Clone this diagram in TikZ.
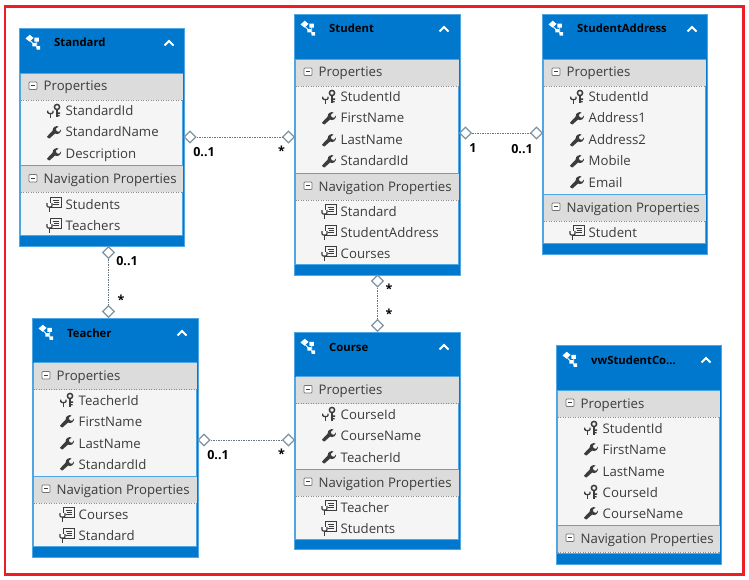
\documentclass[tikz,border=0pt]{standalone}
\usepackage{fontspec}
\setmainfont{Open Sans}
\usetikzlibrary{shapes.geometric,calc}
\definecolor{hdr}{HTML}{0078CE}
\definecolor{edgeb}{HTML}{4FA6E3}
\definecolor{band}{HTML}{DCDCDC}
\definecolor{listbg}{HTML}{F5F5F5}
\definecolor{ink}{HTML}{3C3C3C}
\definecolor{dia}{HTML}{7F93A3}
\definecolor{frame}{HTML}{EE1C25}
\tikzset{
  x=1pt,y=-1pt,
  entity/.style={draw=edgeb,line width=1pt,fill=hdr,rectangle,inner sep=0pt,minimum width=#1,anchor=north west},
  title/.style={anchor=base west,inner sep=0pt,font=\fontsize{11.3}{12}\selectfont\bfseries,text=black},
  sect/.style={anchor=base west,inner sep=0pt,font=\fontsize{13.2}{15}\selectfont,text=ink},
  rowtxt/.style={anchor=base west,inner sep=0pt,font=\fontsize{13.2}{15}\selectfont,text=ink},
  mult/.style={inner sep=0pt,font=\fontsize{12.5}{13}\selectfont\bfseries,text=black},
  end/.style={diamond,draw=dia,fill=white,line width=1.2pt,minimum width=12pt,minimum height=12pt,inner sep=0pt},
  link/.style={draw=dia!80!black,line width=.7pt,dash pattern=on 1.5pt off 1pt},
}
% wrench
\newcommand{\wrenchicon}[2]{%
  \begin{scope}[shift={(#1,#2)},rotate=0]
    \fill[ink] (-6,6) -- (-7,4.6) -- (-1.2,-1.6) .. controls (-1.6,-4.6) and (1.6,-6.6) .. (4.6,-5.6)
      -- (1.8,-3.2) -- (2.6,-.8) -- (5.2,-.2) -- (7,-2.6) .. controls (7.4,.8) and (4,3) .. (1,1.6) -- (-4.4,6.4) -- cycle;
  \end{scope}}
% key + wrench-like key icon
\newcommand{\keyicon}[2]{%
  \begin{scope}[shift={(#1,#2)}]
    \draw[ink,line width=1.5pt] (3,-4) circle (2.6);
    \fill[ink] (2.1,-2) rectangle (3.9,6.5);
    \fill[ink] (3.5,1.4) rectangle (6.2,2.8) (3.5,4) rectangle (5.6,5.4);
    \draw[ink,line width=1.3pt] (-6.2,-.4) -- (-6.2,1.4) .. controls (-6.2,3) and (-1,3) .. (-1,1.4) -- (-1,-.4);
    \fill[ink] (-4.4,2.2) rectangle (-2.9,7);
  \end{scope}}
% navigation property icon
\newcommand{\navicon}[2]{%
  \begin{scope}[shift={(#1,#2)}]
    \draw[ink,line width=1pt] (-3.5,-6.5) rectangle (7,3);
    \draw[ink,line width=1pt] (-1.5,-4) -- (4.5,-4) (-.5,-1.6) -- (4.5,-1.6) (-1.5,.8) -- (4.5,.8);
    \draw[ink,line width=1.2pt,fill=white] (-7,-1) -- (-7,1.8) .. controls (-7,3.6) and (-2,3.6) .. (-2,1.8) -- (-2,-1);
    \fill[ink] (-5.2,2.8) rectangle (-3.8,7.5);
  \end{scope}}
% section header: #1 x, #2 box width, #3 y of label centre, #4 text, #5 node name
\newcommand{\sectionhead}[5]{%
  \fill[band] (#1+1.5,#3-13.5) rectangle (#1+#2-1.5,#3+13.5);
  \draw[edgeb,line width=.9pt] (#1+1.5,#3-13.5) -- (#1+#2-1.5,#3-13.5);
  \draw[black!45,line width=.5pt,dotted] (#1+1.5,#3+13.5) -- (#1+#2-1.5,#3+13.5);
  \draw[black!55,fill=white,line width=.7pt,rounded corners=.8pt] (#1+10,#3-4.5) rectangle (#1+18,#3+3);
  \draw[black!75,line width=.8pt] (#1+12,#3-.8) -- (#1+16,#3-.8);
  \node[sect] (#5) at (#1+24.5,#3+4.5) {#4};}
% row: #1 x, #2 y, #3 icon macro, #4 text, #5 name
\newcommand{\rowitem}[5]{%
  #3{#1+35}{#2}%
  \node[rowtxt] (#5) at (#1+46.5,#2+5) {#4};}
% box frame: #1 name #2 x #3 y #4 width #5 height #6 title #7 list top #8 list bottom
\newcommand{\entitybox}[8]{%
  \node[entity=#4,minimum height=#5] (#1) at (#2,#3) {};
  \fill[listbg] (#2+1.5,#7) rectangle (#2+#4-1.5,#8);
  \draw[edgeb,line width=.9pt] (#2+1.5,#7) -- (#2+1.5,#8) -- (#2+#4-1.5,#8) -- (#2+#4-1.5,#7);
  \begin{scope}[shift={(#2+14,#3+13)},scale=1.25]
    \fill[white] (-6,-2) -- (-2.6,-5) -- (0.4,-2.5) -- (-2.6,.6) -- cycle;
    \fill[white] (1,-2.6) rectangle (4.6,.6) (-.6,1.6) rectangle (2.6,4.4) (2.8,4.2) rectangle (5.6,7);
    \draw[white,line width=.9pt] (-2,0) -- (1,3) (3,0) -- (3,6);
  \end{scope}
  \draw[white,line width=2pt] (#2+145.5,#3+17.5) -- (#2+150,#3+13) -- (#2+154.5,#3+17.5);
  \node[title] (#1title) at (#2+35,#3+19) {#6};}
\begin{document}
\begin{tikzpicture}
\useasboundingbox (0,0) rectangle (749,580);
\fill[white] (0,0) rectangle (749,580);
\draw[frame,line width=2.6pt] (5,6.5) rectangle (743.5,574.5);

% Standard
\entitybox{standard}{19}{28}{165}{218}{Standard}{73}{235}
\sectionhead{19}{165}{86.5}{Properties}{stdP}
\rowitem{19}{111}{\keyicon}{StandardId}{stdA}
\rowitem{19}{132}{\wrenchicon}{StandardName}{stdB}
\rowitem{19}{154}{\wrenchicon}{Description}{stdC}
\sectionhead{19}{165}{179}{Navigation Properties}{stdN}
\rowitem{19}{204}{\navicon}{Students}{stdD}
\rowitem{19}{225}{\navicon}{Teachers}{stdE}

% Student
\entitybox{student}{294}{14}{166}{261}{Student}{59}{264}
\sectionhead{294}{166}{72.5}{Properties}{stuP}
\rowitem{294}{97}{\keyicon}{StudentId}{stuA}
\rowitem{294}{118}{\wrenchicon}{FirstName}{stuB}
\rowitem{294}{140}{\wrenchicon}{LastName}{stuC}
\rowitem{294}{161}{\wrenchicon}{StandardId}{stuD}
\sectionhead{294}{166}{186.5}{Navigation Properties}{stuN}
\rowitem{294}{211}{\navicon}{Standard}{stuE}
\rowitem{294}{232}{\navicon}{StudentAddress}{stuF}
\rowitem{294}{253}{\navicon}{Courses}{stuG}

% StudentAddress
\entitybox{address}{542}{14}{165}{240}{StudentAddress}{59}{243}
\sectionhead{542}{165}{72.5}{Properties}{adrP}
\rowitem{542}{97}{\keyicon}{StudentId}{adrA}
\rowitem{542}{118}{\wrenchicon}{Address1}{adrB}
\rowitem{542}{140}{\wrenchicon}{Address2}{adrC}
\rowitem{542}{161}{\wrenchicon}{Mobile}{adrD}
\rowitem{542}{182}{\wrenchicon}{Email}{adrE}
\sectionhead{542}{165}{207.5}{Navigation Properties}{adrN}
\rowitem{542}{232}{\navicon}{Student}{adrF}

% Teacher
\entitybox{teacher}{32}{318}{166}{239}{Teacher}{363}{546}
\sectionhead{32}{166}{376}{Properties}{teaP}
\rowitem{32}{400}{\keyicon}{TeacherId}{teaA}
\rowitem{32}{421}{\wrenchicon}{FirstName}{teaB}
\rowitem{32}{443}{\wrenchicon}{LastName}{teaC}
\rowitem{32}{464}{\wrenchicon}{StandardId}{teaD}
\sectionhead{32}{166}{489.5}{Navigation Properties}{teaN}
\rowitem{32}{514}{\navicon}{Courses}{teaE}
\rowitem{32}{535}{\navicon}{Standard}{teaF}

% Course
\entitybox{course}{294}{332}{166}{217}{Course}{377}{539}
\sectionhead{294}{166}{390}{Properties}{couP}
\rowitem{294}{414}{\keyicon}{CourseId}{couA}
\rowitem{294}{435}{\wrenchicon}{CourseName}{couB}
\rowitem{294}{457}{\wrenchicon}{TeacherId}{couC}
\sectionhead{294}{166}{482.5}{Navigation Properties}{couN}
\rowitem{294}{507}{\navicon}{Teacher}{couD}
\rowitem{294}{528}{\navicon}{Students}{couE}

% vwStudentCourse
\entitybox{view}{556}{345}{165}{219}{vwStudentCo...}{390}{553}
\sectionhead{556}{165}{403.5}{Properties}{vwP}
\rowitem{556}{428}{\keyicon}{StudentId}{vwA}
\rowitem{556}{449}{\wrenchicon}{FirstName}{vwB}
\rowitem{556}{471}{\wrenchicon}{LastName}{vwC}
\rowitem{556}{492}{\keyicon}{CourseId}{vwD}
\rowitem{556}{513}{\wrenchicon}{CourseName}{vwE}
\sectionhead{556}{165}{538.5}{Navigation Properties}{vwN}

% association ends
\node[end] (e1a) at (190,137) {};
\node[end] (e1b) at (288.5,137) {};
\node[end] (e2a) at (465.5,133) {};
\node[end] (e2b) at (536.5,133) {};
\node[end] (e3a) at (108.5,252.5) {};
\node[end] (e3b) at (108.5,311.5) {};
\node[end] (e4a) at (377.5,281) {};
\node[end] (e4b) at (377.5,325.5) {};
\node[end] (e5a) at (204,440) {};
\node[end] (e5b) at (288.5,440) {};
\draw[link] (e1a) -- (e1b);
\draw[link] (e2a) -- (e2b);
\draw[link] (e3a) -- (e3b);
\draw[link] (e4a) -- (e4b);
\draw[link] (e5a) -- (e5b);

\node[mult] (m1a) at (204,152) {0..1};
\node[mult] (m1b) at (281.5,151) {*};
\node[mult] (m2a) at (473,148) {1};
\node[mult] (m2b) at (522,149) {0..1};
\node[mult] (m3a) at (127,261) {0..1};
\node[mult] (m3b) at (121,300) {*};
\node[mult] (m4a) at (389,289) {*};
\node[mult] (m4b) at (389,313.5) {*};
\node[mult] (m5a) at (218,455) {0..1};
\node[mult] (m5b) at (281.5,454) {*};
\end{tikzpicture}
\end{document}
